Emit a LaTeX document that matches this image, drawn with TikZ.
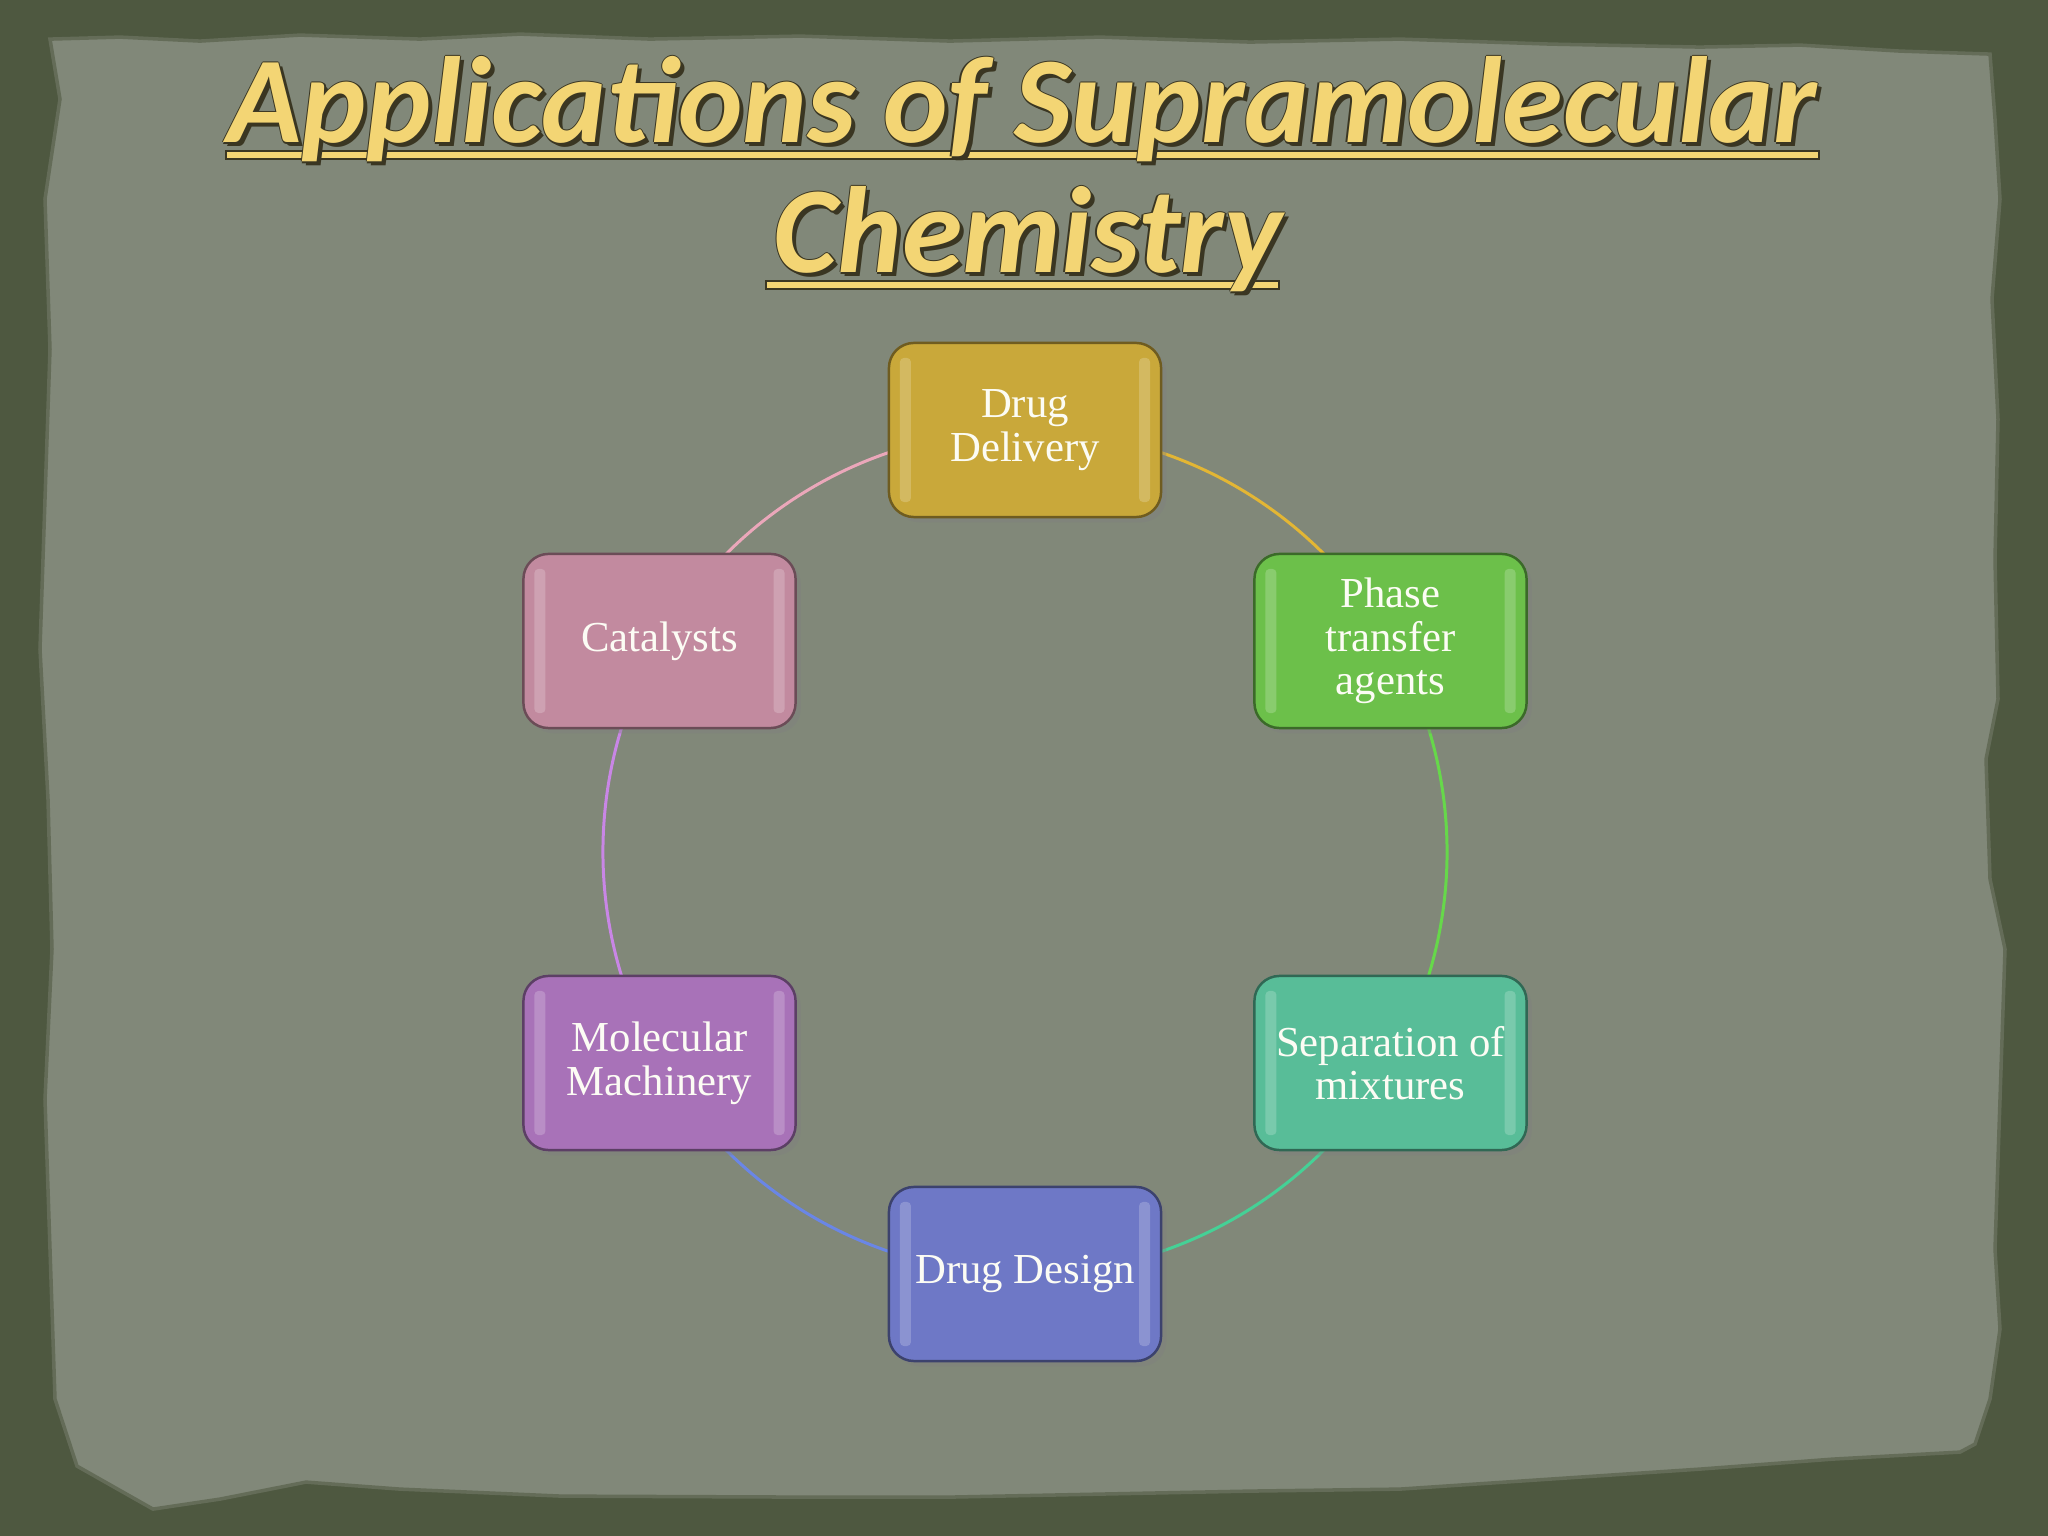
\documentclass[tikz,border=0pt]{standalone}
\usepackage{fontspec}
\usetikzlibrary{shadows}
\newfontfamily\titlefont{Carlito}
\newfontfamily\bodyfont{Liberation Serif}
\pgfdeclarelayer{back}
\pgfdeclarelayer{arcs}
\pgfsetlayers{back,arcs,main}
\definecolor{outerbg}{RGB}{78,88,64}
\definecolor{paper}{RGB}{129,136,121}
\definecolor{titleyellow}{RGB}{243,213,116}
\definecolor{titledark}{RGB}{58,54,34}
\definecolor{ddc}{RGB}{201,168,58}
\definecolor{ptc}{RGB}{108,192,74}
\definecolor{smc}{RGB}{88,189,152}
\definecolor{dgc}{RGB}{110,120,198}
\definecolor{mmc}{RGB}{168,114,184}
\definecolor{cac}{RGB}{194,138,159}
\definecolor{ddarc}{RGB}{227,182,52}
\definecolor{ptarc}{RGB}{102,216,74}
\definecolor{smarc}{RGB}{69,209,150}
\definecolor{dgarc}{RGB}{106,134,230}
\definecolor{mmarc}{RGB}{201,134,230}
\definecolor{caarc}{RGB}{235,167,186}
\begin{document}
\begin{tikzpicture}[x=0.01cm,y=0.01cm,
  box/.style={rectangle, rounded corners=0.25cm, minimum width=2.72cm, minimum height=1.74cm,
    inner sep=0pt, align=center, text={rgb,255:red,252;green,252;blue,244},
    font=\bodyfont\fontsize{12.15}{12.4}\selectfont,
    fill=#1, draw=#1!55!black, line width=0.7pt,
    drop shadow={shadow xshift=1.5pt, shadow yshift=-1.5pt, opacity=0.4},
    path picture={
      \fill[white, opacity=0.2, rounded corners=0.04cm]
        ([xshift=0.11cm,yshift=0.15cm]path picture bounding box.south west) rectangle
        ([xshift=0.22cm,yshift=-0.15cm]path picture bounding box.north west);
      \fill[white, opacity=0.2, rounded corners=0.04cm]
        ([xshift=-0.22cm,yshift=0.15cm]path picture bounding box.south east) rectangle
        ([xshift=-0.11cm,yshift=-0.15cm]path picture bounding box.north east);
    }},
  arcline/.style={line width=0.85pt, #1},
  ttl/.style={anchor=base, inner sep=0pt, font={\titlefont\fontsize{34.9}{40}\selectfont\bfseries\itshape}},
  uline/.style={fill=titleyellow, draw=titledark, line width=0.7pt}
]
\useasboundingbox (0,0) rectangle (2048,1536);
% background
\begin{pgfonlayer}{back}
\fill[outerbg] (0,0) rectangle (2048,1536);
\begin{scope}[yshift=15.36cm,yscale=-1]
\fill[paper, draw={rgb,255:red,100;green,108;blue,88}, line width=1pt]
  (50,40) -- (120,38) -- (200,42) -- (300,36) -- (420,40) -- (520,35) -- (650,40) -- (800,37)
  -- (950,42) -- (1100,38) -- (1250,43) -- (1400,40) -- (1550,45) -- (1700,48) -- (1800,46)
  -- (1900,52) -- (1990,55)
  -- (1995,120) -- (2000,200) -- (1992,300) -- (1998,420) -- (1995,560) -- (1998,700)
  -- (1986,760) -- (1990,880) -- (2005,950) -- (2000,1100) -- (1995,1250) -- (2000,1330)
  -- (1990,1400) -- (1975,1445) -- (1960,1453)
  -- (1833,1460) -- (1700,1470) -- (1550,1480) -- (1400,1490) -- (1250,1492) -- (1100,1495)
  -- (950,1498) -- (800,1498) -- (561,1497) -- (400,1490) -- (306,1483) -- (220,1500)
  -- (153,1510) -- (100,1480) -- (77,1467)
  -- (55,1400) -- (50,1250) -- (45,1100) -- (52,950) -- (48,800) -- (40,650) -- (45,500)
  -- (50,350) -- (45,200) -- (60,100) -- cycle;
\end{scope}
\end{pgfonlayer}
% title underlines
\filldraw[uline] (226,1377) rectangle (1819,1385);
\filldraw[uline] (766,1247) rectangle (1279,1255);
% title shadow / outline / fill
\node[ttl, text=titledark] (t1s) at (1026,1389) {Applications of Supramolecular};
\node[ttl, text=titledark] (t2s) at (1032,1259) {Chemistry};
\foreach \dx/\dy [count=\k] in {-1.3/0,1.3/0,0/1.3,0/-1.3} {
  \node[ttl, text=titledark] (t1o\k) at (1022+\dx,1393+\dy) {Applications of Supramolecular};
  \node[ttl, text=titledark] (t2o\k) at (1028+\dx,1263+\dy) {Chemistry};
}
\node[ttl, text=titleyellow] (t1) at (1022,1393) {Applications of Supramolecular};
\node[ttl, text=titleyellow] (t2) at (1028,1263) {Chemistry};
% nodes on a circle, centre (1025,684), radius 422
\node[box=ddc] (dd) at (1025,1106) {Drug\\Delivery};
\node[box=ptc] (pt) at (1390.5,895) {Phase\\transfer\\agents};
\node[box=smc] (sm) at (1390.5,473) {Separation of\\mixtures};
\node[box=dgc] (dg) at (1025,262) {Drug Design};
\node[box=mmc] (mm) at (659.5,473) {Molecular\\Machinery};
\node[box=cac] (ca) at (659.5,895) {Catalysts};
% connectors: circle arcs from node to node, hidden under the boxes
\begin{pgfonlayer}{arcs}
\draw[arcline=ddarc] (dd.center) arc[start angle=90, end angle=30, radius=4.22cm];
\draw[arcline=ptarc] (pt.center) arc[start angle=30, end angle=-30, radius=4.22cm];
\draw[arcline=smarc] (sm.center) arc[start angle=-30, end angle=-90, radius=4.22cm];
\draw[arcline=dgarc] (dg.center) arc[start angle=-90, end angle=-150, radius=4.22cm];
\draw[arcline=mmarc] (mm.center) arc[start angle=-150, end angle=-210, radius=4.22cm];
\draw[arcline=caarc] (ca.center) arc[start angle=150, end angle=90, radius=4.22cm];
\end{pgfonlayer}
\end{tikzpicture}
\end{document}
